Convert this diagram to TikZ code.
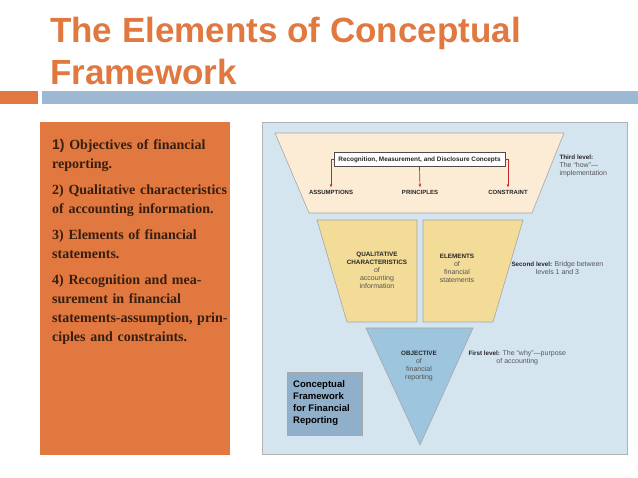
\documentclass[tikz,border=0pt]{standalone}
\usepackage{fontspec}
\setmainfont{Liberation Serif}
\newfontfamily\hv{Liberation Sans}
\usetikzlibrary{arrows.meta}
\definecolor{org}{HTML}{E0783F}
\definecolor{barblue}{HTML}{9DB8D3}
\definecolor{panel}{HTML}{D5E5F0}
\definecolor{top}{HTML}{FCEBD5}
\definecolor{mid}{HTML}{F3DC98}
\definecolor{tri}{HTML}{9DC5DE}
\definecolor{box}{HTML}{8FAFCB}
\definecolor{redar}{HTML}{C0282D}
\definecolor{gtxt}{HTML}{555555}
\tikzset{shp/.style={draw=gray!70,line width=0.6pt},
lbl/.style={font=\hv\fontsize{6}{7}\selectfont\bfseries,text=black!85},
sm/.style={font=\hv\fontsize{7}{8}\selectfont,text=gtxt,align=center},
arr/.style={draw=redar,-{Stealth[length=3.5pt]},line width=0.7pt}}
\newcommand{\hd}[1]{{\color{black!85}\bfseries\fontsize{6.3}{8}\selectfont #1}}
\begin{document}
\begin{tikzpicture}[x=1pt,y=-1pt]
\useasboundingbox (0,0) rectangle (638,478);
\fill[white] (0,0) rectangle (638,478);
\node[anchor=west,font=\hv\bfseries\fontsize{35}{42}\selectfont,text=org,align=left,inner sep=0pt] (title) at (50,51) {The Elements of Conceptual\\Framework};
\fill[org] (0,91) rectangle (38,104);
\fill[barblue] (42,91) rectangle (638,104);
\fill[org] (40,122) rectangle (230,455);
\node[anchor=north west,text width=176pt,inner sep=0pt,font=\bfseries\fontsize{14}{19}\selectfont,text=black!75!org,align=left] (lt) at (52,139) {\hyphenpenalty=10000\exhyphenpenalty=10000 {\hv 1)} Objectives of financial reporting.\\[7pt]
2) Qualitative characteristics of accounting information.\\[7pt]
3) Elements of financial statements.\\[7pt]
4) Recognition and measurement in financial statements-assumption, principles and constraints.};
\draw[fill=panel,draw=gray!60] (262,122) rectangle (627,454);
\draw[shp,fill=top] (275,133) -- (564,133) -- (532,213) -- (309,213) -- cycle;
\draw[shp,fill=mid] (317,220) -- (417,220) -- (417,322) -- (347,322) -- cycle;
\draw[shp,fill=mid] (423,220) -- (523,220) -- (493,322) -- (423,322) -- cycle;
\draw[shp,fill=tri] (366,328) -- (473,328) -- (420,445) -- cycle;
\node[draw=black!70,fill=white,font=\hv\fontsize{6.4}{7}\selectfont\bfseries,text=black!85,minimum width=171pt,minimum height=14pt,inner sep=1pt] (rec) at (419.5,159.5) {Recognition, Measurement, and Disclosure Concepts};
\node[lbl] (as) at (331,192) {ASSUMPTIONS};
\node[lbl] (pr) at (420,192) {PRINCIPLES};
\node[lbl] (co) at (508,192) {CONSTRAINT};
\draw[arr] (rec.west) -| ([yshift=-1pt]as.north);
\draw[arr] (rec.south) -- ([yshift=-1pt]pr.north);
\draw[arr] (rec.east) -| ([yshift=-1pt]co.north);
\node[sm] (qc) at (377,270) {\hd{QUALITATIVE}\\\hd{CHARACTERISTICS}\\of\\accounting\\information};
\node[sm] (el) at (457,268) {\hd{ELEMENTS}\\of\\financial\\statements};
\node[sm] (ob) at (419,366) {\hd{OBJECTIVE}\\of\\financial\\reporting};
\node[sm,align=left,anchor=west] (l3) at (556,166) {\hd{Third level:}\\The “how”—\\implementation};
\node[sm,anchor=west] (l2) at (508,268) {\hd{Second level:} Bridge between\\levels 1 and 3};
\node[sm,anchor=west] (l1) at (465,358) {\hd{First level:} The “why”—purpose\\of accounting};
\node[draw=gray!70,fill=box,minimum width=75pt,minimum height=63pt,inner sep=0pt] (cf) at (324.5,403.5) {};
\node[anchor=west,font=\hv\bfseries\fontsize{9.5}{12}\selectfont,align=left,inner sep=0pt] (cft) at (293,403.5) {Conceptual\\Framework\\for Financial\\Reporting};
\end{tikzpicture}
\end{document}
